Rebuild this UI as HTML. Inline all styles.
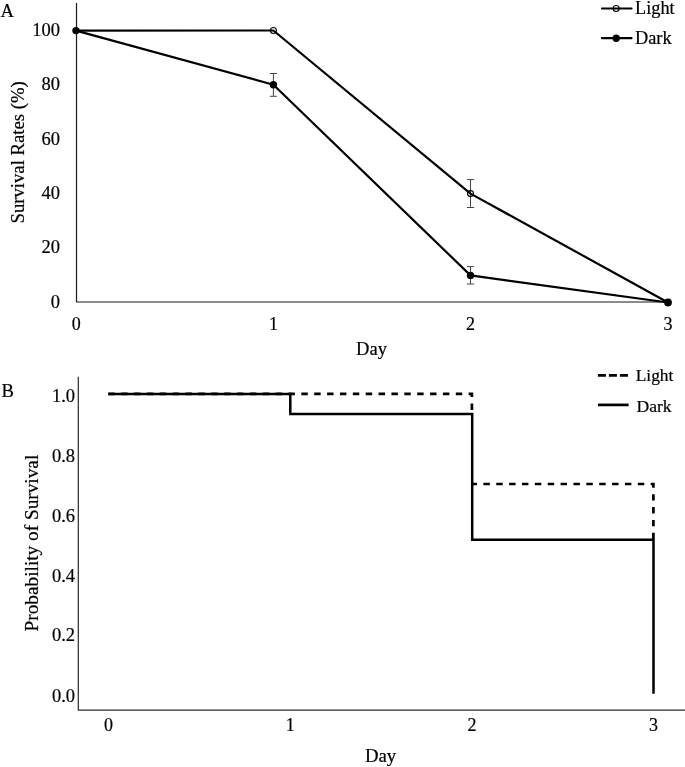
<!DOCTYPE html>
<html><head><meta charset="utf-8"><title>Survival</title>
<style>
html,body{margin:0;padding:0;background:#fff;}
svg{display:block;}
text{font-family:"Liberation Serif","Times New Roman",serif;fill:#000;stroke:#000;stroke-width:0.2;}
</style></head><body>
<svg width="685" height="767" viewBox="0 0 685 767">
<rect width="685" height="767" fill="#fff"/>
<!-- Panel A -->
<g font-size="18">
<text x="0.6" y="17" font-size="18.6">A</text>
<g text-anchor="end" font-size="18.5">
<text x="60" y="35.8">100</text>
<text x="60" y="90.3">80</text>
<text x="60" y="144.5">60</text>
<text x="60" y="198.9">40</text>
<text x="60" y="253.3">20</text>
<text x="60" y="307.6">0</text>
</g>
<g text-anchor="middle">
<text x="76.2" y="330.1">0</text>
<text x="273.4" y="330.1">1</text>
<text x="470.5" y="330.1">2</text>
<text x="667.9" y="330.1">3</text>
<text x="371.5" y="355.4" font-size="18.5">Day</text>
<text transform="translate(24,152.4) rotate(-90)" font-size="18.7">Survival Rates (%)</text>
</g>
<text x="635" y="14" font-size="18.3">Light</text>
<text x="635" y="43.6" font-size="18.3">Dark</text>
</g>
<g stroke="#1a1a1a" stroke-width="1.2" fill="none" stroke-linejoin="round">
<path d="M76.5 3V302H668"/>
</g>
<g stroke="#444" stroke-width="1" fill="none">
<path d="M273.4 73.5V96.3M269.9 73.5h7M269.9 96.3h7"/>
<path d="M470.5 179.6V207.5M466.9 179.6h7.2M466.9 207.5h7.2"/>
<path d="M470.5 266.6V284M466.9 266.6h7.2M466.9 284h7.2"/>
</g>
<g stroke="#000" stroke-width="2.2" fill="none" stroke-linejoin="round" stroke-linecap="round">
<path d="M76 30.6L273.4 30.5L470.5 193.6L668 302.5"/>
<path d="M76 30.6L273.4 84.7L470.5 275.4L668 302.5"/>
<path d="M602 8.5h29.5M602 38.2h29.5"/>
</g>
<g fill="none" stroke="#000" stroke-width="1.1">
<circle cx="273.4" cy="30.5" r="3"/>
<circle cx="470.5" cy="193.6" r="3"/>
<circle cx="616.2" cy="8.5" r="3"/>
</g>
<g fill="#000">
<circle cx="76" cy="30.6" r="3.7"/>
<circle cx="273.4" cy="84.7" r="3.7"/>
<circle cx="470.5" cy="275.4" r="3.7"/>
<circle cx="668" cy="302.5" r="3.9"/>
<circle cx="616.2" cy="38.2" r="3.7"/>
</g>
<!-- Panel B -->
<g font-size="18">
<text x="1.6" y="397" font-size="18.6">B</text>
<g text-anchor="end" font-size="18.5">
<text x="75" y="401.7">1.0</text>
<text x="75" y="461.6">0.8</text>
<text x="75" y="521.5">0.6</text>
<text x="75" y="581.6">0.4</text>
<text x="75" y="641.4">0.2</text>
<text x="75" y="701.6">0.0</text>
</g>
<g text-anchor="middle">
<text x="108.6" y="730.7">0</text>
<text x="290.3" y="730.7">1</text>
<text x="472" y="730.7">2</text>
<text x="653.5" y="730.7">3</text>
<text x="380.6" y="761.9" font-size="18.7">Day</text>
<text transform="translate(37.5,543.1) rotate(-90)" font-size="19.3">Probability of Survival</text>
</g>
<text x="635.7" y="380.6" font-size="17.4">Light</text>
<text x="636.5" y="411.7" font-size="17.6">Dark</text>
</g>
<g stroke="#2a2a2a" stroke-width="1.2" fill="none" stroke-linejoin="round">
<path d="M78.3 376.7V710.2H685"/>
</g>
<g stroke="#000" stroke-width="2.7" fill="none">
<path d="M108.3 393.9H471.9V413" stroke-dasharray="6.45 6.42"/>
<path d="M472 484H653.4V540" stroke-dasharray="6.45 6.42" stroke-dashoffset="1.5"/>
<path d="M597.9 375.4H627.9" stroke-dasharray="8 3"/>
<path d="M597.9 404.9H628.6"/>
</g>
<g stroke="#000" stroke-width="2.5" fill="none">
<path d="M108.3 393.9H290.3V414H472.2V539.8H653.5V693.8"/>
</g>
</svg>
</body></html>
